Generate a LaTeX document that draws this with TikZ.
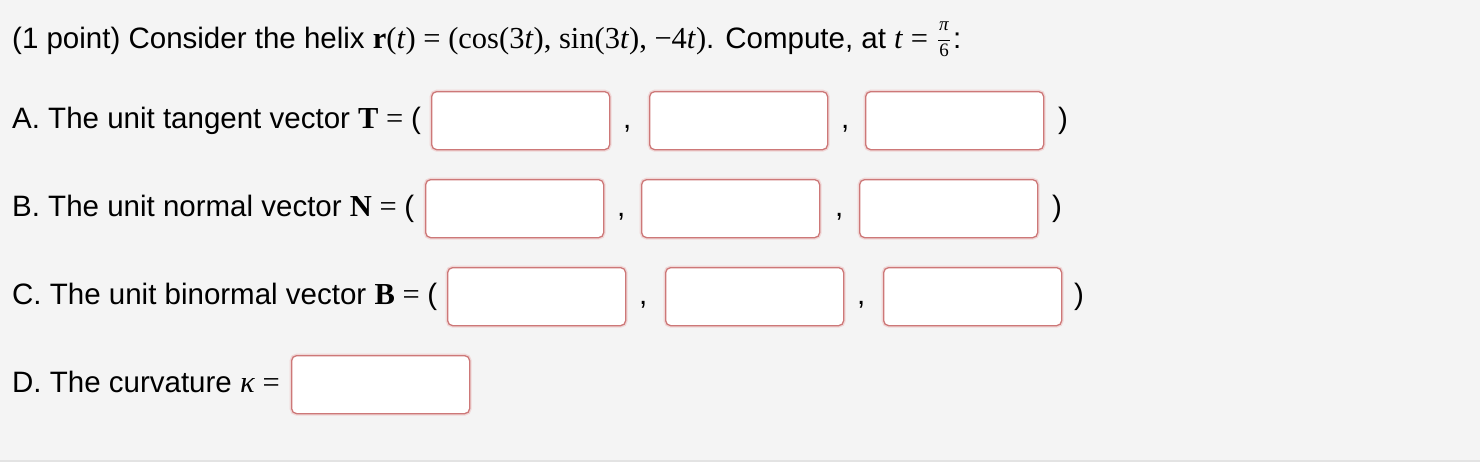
\documentclass[tikz,border=0pt]{standalone}
\usepackage{fontspec}
\setmainfont{Liberation Sans}
\newfontfamily\srf{Liberation Serif}
\definecolor{bx}{RGB}{205,120,120}
\definecolor{glow}{RGB}{240,215,215}
\begin{document}
\begin{tikzpicture}[x=1pt,y=-1pt,
  txt/.style={anchor=base west,inner sep=0pt,font=\fontsize{29.5}{32}\selectfont},
  ansbox/.style={draw=bx,line width=1.3pt,fill=white,rounded corners=5pt,minimum width=178pt,minimum height=58pt,inner sep=0pt,anchor=north west,
    preaction={draw=glow,line width=4pt}}]
\fill[white] (0,0) rectangle (1480,466);
\fill[black!4.5] (0,0) rectangle (1480,460);
\fill[black!11] (0,460) rectangle (1480,462);
\useasboundingbox (0,0) rectangle (1480,466);
\newcommand\mt[1]{{\srf\fontsize{30.5}{32}\selectfont #1}}
\newcommand\eq{\hspace{0.25em}=\hspace{0.25em}}
\node[txt] (title) at (12,48) {(1 point) Consider the helix \mt{\textbf{r}(\textit{t})\eq(cos(3\textit{t}), sin(3\textit{t}), −4\textit{t})}. Compute, at \mt{\textit{t}\eq}};
\node[inner sep=0pt,font=\srf\fontsize{19}{20}\selectfont,anchor=center] (frac) at (944,39) {\begin{tabular}{@{}c@{}}\textit{π}\\[-6pt]\rule[3pt]{12pt}{0.8pt}\\[-8pt]6\end{tabular}};
\node[txt] (colon) at (953,48) {:};
% rows
\node[txt] (la) at (12,128) {A. The unit tangent vector \mt{\textbf{T}\eq}(};
\node[ansbox] (a1) at (431,91) {}; \node[ansbox] (a2) at (649,91) {}; \node[ansbox] (a3) at (865,91) {};
\node[txt] at (623,128) {,}; \node[txt] at (841,128) {,}; \node[txt] at (1058,128) {)};
\node[txt] (lb) at (12,216) {B. The unit normal vector \mt{\textbf{N}\eq}(};
\node[ansbox] (b1) at (425,179) {}; \node[ansbox] (b2) at (641,179) {}; \node[ansbox] (b3) at (859,179) {};
\node[txt] at (617,216) {,}; \node[txt] at (835,216) {,}; \node[txt] at (1052,216) {)};
\node[txt] (lc) at (12,304) {C. The unit binormal vector \mt{\textbf{B}\eq}(};
\node[ansbox] (c1) at (447,267) {}; \node[ansbox] (c2) at (665,267) {}; \node[ansbox] (c3) at (883,267) {};
\node[txt] at (639,304) {,}; \node[txt] at (857,304) {,}; \node[txt] at (1074,304) {)};
\node[txt] (ld) at (12,392) {D. The curvature \mt{\textit{κ}\eq}};
\node[ansbox] (d1) at (291,355) {};
\end{tikzpicture}
\end{document}
